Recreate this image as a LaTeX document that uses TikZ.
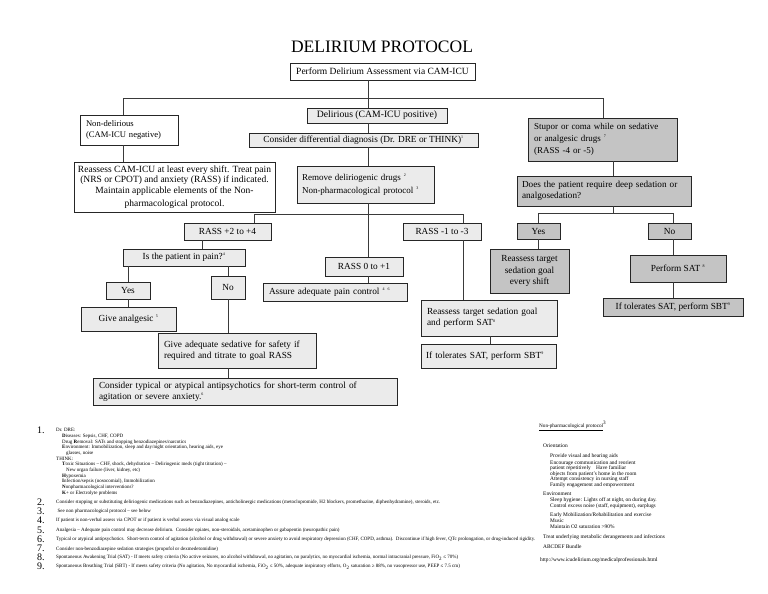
\documentclass[tikz,border=0pt]{standalone}
\usepackage{fontspec}
\setmainfont{Liberation Serif}
\usetikzlibrary{calc}
\definecolor{lightC}{HTML}{EBEBEB}
\definecolor{darkC}{HTML}{C4C4C4}
\definecolor{lineC}{HTML}{3A3A3A}
\newcommand{\boxfont}{\fontsize{9.3}{11.5}\selectfont}
\newcommand{\notefont}{\fontsize{5}{5.64}\selectfont}
\newcommand{\supnum}[1]{\textsuperscript{\fontsize{4}{4}\selectfont #1}}
\tikzset{
  flowbox/.style={draw=black!85, line width=0.9pt, inner xsep=5pt, inner ysep=1pt, font=\boxfont},
  plainbox/.style={flowbox, fill=white},
  lightbox/.style={flowbox, fill=lightC},
  darkbox/.style={flowbox, fill=darkC},
  link/.style={draw=lineC, line width=0.8pt},
  note/.style={font=\notefont, inner sep=0pt},
  numlabel/.style={font=\fontsize{10}{10}\selectfont, inner sep=0pt}
}

\begin{document}
\begin{tikzpicture}[x=1pt,y=-1pt]
  \useasboundingbox (0,0) rectangle (768,594);
  \node[font=\fontsize{17.5}{20}\selectfont] (title) at (382,47) {DELIRIUM PROTOCOL};

  % top of the chart
  \node[plainbox, minimum width=185pt, minimum height=17pt, font=\fontsize{9.5}{11.5}\selectfont] (assess) at (382.5,71.5) {Perform Delirium Assessment via CAM-ICU};
  \node[lightbox, minimum width=140pt, minimum height=15pt, font=\fontsize{9.7}{11.5}\selectfont] (delirious) at (377,115.5) {Delirious (CAM-ICU positive)};
  \node[plainbox, minimum width=98pt, minimum height=30pt, text width=86pt, inner xsep=6pt, align=left, font=\fontsize{8.6}{11.6}\selectfont] (nondel) at (129,130) {Non-delirious\\(CAM-ICU negative)};
  \node[lightbox, minimum width=229pt, minimum height=14pt] (differential) at (363.5,140) {Consider differential diagnosis (Dr. DRE or THINK)\supnum{1}};
  \node[darkbox, minimum width=149pt, minimum height=43pt, text width=137pt, inner xsep=6pt, align=left, font=\fontsize{9}{12}\selectfont] (stupor) at (602.5,139.5) {Stupor or coma while on sedative\\or analgesic drugs \supnum{7}\\(RASS -4 or -5)};

  % second row
  \node[plainbox, minimum width=201pt, minimum height=50pt, align=center, inner xsep=2pt, font=\fontsize{9.5}{10.3}\selectfont] (reassess) at (174.5,187) {Reassess CAM-ICU at least every shift. Treat pain\\(NRS or CPOT) and anxiety (RASS) if indicated.\\Maintain applicable elements of the Non-\\[2.5pt]pharmacological protocol.};
  \node[lightbox, minimum width=137pt, minimum height=37pt, text width=127pt, align=left, font=\fontsize{9}{13}\selectfont] (remove) at (365.5,184.5) {Remove deliriogenic drugs \supnum{2}\\Non-pharmacological protocol \supnum{3}};
  \node[darkbox, minimum width=174pt, minimum height=30pt, text width=164pt, align=left, font=\fontsize{9.2}{11.3}\selectfont] (deep) at (604,191) {Does the patient require deep sedation or\\analgosedation?};

  % RASS levels
  \node[lightbox, minimum width=87pt, minimum height=17pt] (rassHigh) at (227.5,231.5) {RASS +2 to +4};
  \node[lightbox, minimum width=78pt, minimum height=17pt] (rassLow) at (442,231.5) {RASS -1 to -3};
  \node[lightbox, minimum width=78pt, minimum height=19pt] (rassMid) at (364,266.5) {RASS 0 to +1};
  \node[darkbox, minimum width=43pt, minimum height=16pt] (yesDeep) at (538.5,231) {Yes};
  \node[darkbox, minimum width=43pt, minimum height=16pt] (noDeep) at (669.5,231) {No};

  % agitated branch
  \node[lightbox, minimum width=122pt, minimum height=17pt] (pain) at (184,257.5) {Is the patient in pain?\supnum{4}};
  \node[lightbox, minimum width=44pt, minimum height=17pt] (yesPain) at (128,290.5) {Yes};
  \node[lightbox, minimum width=34pt, minimum height=23pt] (noPain) at (228,287.5) {No};
  \node[lightbox, minimum width=95pt, minimum height=24pt] (analgesic) at (128.5,319) {Give analgesic \supnum{5}};
  \node[lightbox, minimum width=158pt, minimum height=35pt, text width=146pt, inner xsep=6pt, align=left, font=\fontsize{9.3}{10.8}\selectfont] (sedative) at (237,350.5) {Give adequate sedative for safety if\\required and titrate to goal RASS};
  \node[lightbox, minimum width=304pt, minimum height=27pt, text width=292pt, inner xsep=6pt, align=left] (antipsych) at (245,391.5) {Consider typical or atypical antipsychotics for short-term control of\\agitation or severe anxiety.\supnum{6}};

  % calm and sedated branches
  \node[lightbox, minimum width=144pt, minimum height=18pt, text width=132pt, inner xsep=6pt, align=left] (painControl) at (335,292) {Assure adequate pain control \supnum{4 6}};
  \node[lightbox, minimum width=136pt, minimum height=36pt, text width=124pt, inner xsep=6pt, align=left] (targetSAT) at (489,318) {Reassess target sedation goal\\and perform SAT\supnum{8}};
  \node[lightbox, minimum width=135pt, minimum height=24pt, text width=125pt, align=left] (sbtLow) at (488.5,356) {If tolerates SAT, perform SBT\supnum{9}};
  \node[darkbox, minimum width=79pt, minimum height=44pt, align=center, inner xsep=2pt, font=\fontsize{9.3}{11.7}\selectfont] (targetGoal) at (529.5,271) {Reassess target\\sedation goal\\every shift};
  \node[darkbox, minimum width=96pt, minimum height=27pt] (perfSAT) at (678,268.5) {Perform SAT \supnum{8}};
  \node[darkbox, minimum width=140pt, minimum height=18pt] (sbtDeep) at (673,307) {If tolerates SAT, perform SBT\supnum{9}};

  % connectors
  \coordinate (spine) at (368,0);
  \coordinate (topL) at (123,98);
  \coordinate (topR) at (603,98);
  \draw[link] (assess.south -| spine) -- (delirious.north -| spine);
  \draw[link] (nondel.north -| topL) -- (topL) -- (topR) -- (stupor.north -| topR);
  \draw[link] (delirious.south -| spine) -- (differential.north -| spine);
  \draw[link] (differential.south -| spine) -- (remove.north -| spine);
  \draw[link] (remove.south -| spine) -- (rassMid.north -| spine);
  \draw[link] (nondel.south -| topL) -- (reassess.north -| topL);
  \coordinate (midL) at (254,214);
  \coordinate (midR) at (463,214);
  \draw[link] (rassHigh.north -| midL) -- (midL) -- (midR) -- (rassLow.north -| midR);
  \coordinate (painCol) at (202,0);
  \draw[link] (rassHigh.south -| painCol) -- (pain.north -| painCol);
  \draw[link] (pain.south -| yesPain.north) -- (yesPain.north);
  \draw[link] (pain.south -| noPain.north) -- (noPain.north);
  \draw[link] (yesPain.south) -- (analgesic.north -| yesPain.south);
  \draw[link] (noPain.south) -- (sedative.north -| noPain.south);
  \draw[link] (sedative.south -| noPain.south) -- (antipsych.north -| noPain.south);
  \draw[link] (rassMid.south -| spine) -- (painControl.north -| spine);
  \draw[link] (rassLow.south -| midR) -- (targetSAT.north -| midR);
  \coordinate (sbtCol) at (490,0);
  \draw[link] (targetSAT.south -| sbtCol) -- (sbtLow.north -| sbtCol);
  \coordinate (rcol) at (613,0);
  \coordinate (deepL) at (538.5,213);
  \coordinate (deepR) at (673,213);
  \draw[link] (stupor.south -| rcol) -- (deep.north -| rcol);
  \draw[link] (deep.south -| rcol) -- (deepL -| rcol);
  \draw[link] (yesDeep.north -| deepL) -- (deepL) -- (deepR) -- (noDeep.north -| deepR);
  \draw[link] (yesDeep.south) -- (targetGoal.north -| yesDeep.south);
  \draw[link] (noDeep.south -| deepR) -- (perfSAT.north -| deepR);
  \draw[link] (perfSAT.south -| deepR) -- (sbtDeep.north -| deepR);

  % footnotes
  \foreach \n/\yy in {1/430,2/502.5,3/511,4/520.5,5/530,6/539,7/548.5,8/557.5,9/566.5}
    \node[numlabel, anchor=west] (num\n) at (37,\yy) {\n.};
  \node[note, anchor=north west, align=left] (fn1) at (56,428.5) {Dr. DRE:\\
    \hspace*{6pt}\textbf{D}iseases: Sepsis, CHF, COPD\\
    \hspace*{6pt}Drug \textbf{R}emoval: SATs and stopping benzodiazepines/narcotics\\
    \hspace*{6pt}\textbf{E}nvironment: Immobilization, sleep and day/night orientation, hearing aids, eye\\
    \hspace*{10pt}glasses, noise\\
    THINK:\\
    \hspace*{6pt}\textbf{T}oxic Situations -- CHF, shock, dehydration -- Deliriogenic meds (tight titration) --\\
    \hspace*{10pt}New organ failure (liver, kidney, etc)\\
    \hspace*{6pt}\textbf{H}ypoxemia\\
    \hspace*{6pt}\textbf{I}nfection/sepsis (nosocomial), Immobilization\\
    \hspace*{6pt}\textbf{N}onpharmacological interventions?\\
    \hspace*{6pt}\textbf{K}+ or Electrolyte problems};
  \node[note, anchor=west] (fn2) at (56,502.7) {Consider stopping or substituting deliriogenic medications such as benzodiazepines, anticholinergic medications (metoclopromide, H2 blockers, promethazine, diphenhydramine), steroids, etc.};
  \node[note, anchor=west] (fn3) at (57.5,511.5) {See non pharmacological protocol -- see below};
  \node[note, anchor=west] (fn4) at (56,520.7) {If patient is non-verbal assess via CPOT or if patient is verbal assess via visual analog scale};
  \node[note, anchor=west] (fn5) at (56,530.5) {Analgesia -- Adequate pain control may decrease delirium.\enspace Consider opiates, non-steroidals, acetaminophen or gabapentin (neuropathic pain)};
  \node[note, anchor=west] (fn6) at (56,539.3) {Typical or atypical antipsychotics.\enspace Short-term control of agitation (alcohol or drug withdrawal) or severe anxiety to avoid respiratory depression (CHF, COPD, asthma).\enspace Discontinue if high fever, QTc prolongation, or drug-induced rigidity.};
  \node[note, anchor=west] (fn7) at (56,549) {Consider non-benzodiazepine sedation strategies (propofol or dexmedetomidine)};
  \node[note, anchor=west] (fn8) at (56,557.7) {Spontaneous Awakening Trial (SAT) - If meets safety criteria (No active seizures, no alcohol withdrawal, no agitation, no paralytics, no myocardial ischemia, normal intracranial pressure, FiO\textsubscript{2} ≤ 70\%)};
  \node[note, anchor=west] (fn9) at (56,567) {Spontaneous Breathing Trial (SBT) - If meets safety criteria (No agitation, No myocardial ischemia, FiO\textsubscript{2} ≤ 50\%, adequate inspiratory efforts, O\textsubscript{2} saturation ≥ 88\%, no vasopressor use, PEEP ≤ 7.5 cm)};

  % non-pharmacological protocol
  \node[note, anchor=west, font=\fontsize{5.2}{5.8}\selectfont] (npTitle) at (539,426) {\underline{Non-pharmacological protocol}\raisebox{3pt}{3}};
  \node[note, anchor=north west, align=left, font=\fontsize{5.4}{5.8}\selectfont] (npList) at (539,443.3) {\hspace*{4pt}Orientation\\[4.5pt]
    \hspace*{11pt}Provide visual and hearing aids\\[0.9pt]
    \hspace*{11pt}Encourage communication and reorient\\[-0.8pt]
    \hspace*{11pt}patient repetitively\quad Have familiar\\[0.2pt]
    \hspace*{11pt}objects from patient's home in the room\\
    \hspace*{11pt}Attempt consistency in nursing staff\\[0.2pt]
    \hspace*{11pt}Family engagement and empowerment\\[3.2pt]
    \hspace*{4pt}Environment\\[0.2pt]
    \hspace*{11pt}Sleep hygiene: Lights off at night, on during day.\\
    \hspace*{11pt}Control excess noise (staff, equipment), earplugs\\[3.5pt]
    \hspace*{11pt}Early Mobilization/Rehabilitation and exercise\\[0.2pt]
    \hspace*{11pt}Music\\
    \hspace*{11pt}Maintain O2 saturation >90\%\\[3.9pt]
    \hspace*{4pt}Treat underlying metabolic derangements and infections\\[4.2pt]
    \hspace*{4pt}ABCDEF Bundle\\[6.8pt]
    \hspace*{1pt}http://www.icudelirium.org/medicalprofessionals.html};
\end{tikzpicture}
\end{document}
